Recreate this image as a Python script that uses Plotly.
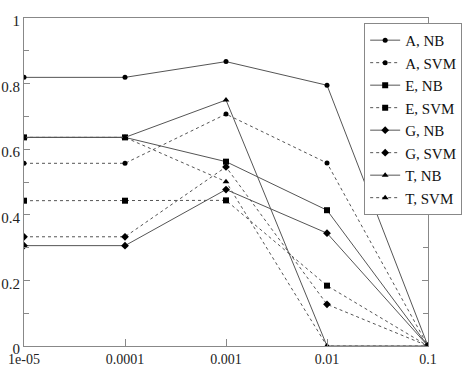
import plotly.graph_objects as go

x_vals = [1e-05, 1e-04, 1e-03, 1e-02, 1e-01]
series_names = ["A, NB", "A, SVM", "E, NB", "E, SVM", "G, NB", "G, SVM", "T, NB", "T, SVM"]
a_nb = [0.819, 0.819, 0.867, 0.795, 0.0]
a_svm = [0.557, 0.557, 0.707, 0.558, 0.0]
e_nb = [0.636, 0.636, 0.562, 0.414, 0.0]
e_svm = [0.443, 0.443, 0.444, 0.184, 0.0]
g_nb = [0.306, 0.306, 0.477, 0.344, 0.0]
g_svm = [0.333, 0.333, 0.546, 0.127, 0.0]
t_nb = [0.636, 0.636, 0.750, 0.0, 0.0]
t_svm = [0.636, 0.636, 0.501, 0.0, 0.0]
series_values = [a_nb, a_svm, e_nb, e_svm, g_nb, g_svm, t_nb, t_svm]
symbols = ["circle", "circle", "square", "square", "diamond", "diamond", "triangle-up", "triangle-up"]
dashes = ["solid", "3px,3px"] * 4
sizes = [5, 5, 6, 6, 6, 6, 6, 6]

x_tick_vals = [1e-05, 1e-04, 1e-03, 1e-02, 1e-01]
x_tick_text = ["1e-05", "0.0001", "0.001", "0.01", "0.1"]
y_tick_vals = [0, 0.2, 0.4, 0.6, 0.8, 1]
y_tick_text = ["0", "0.2", "0.4", "0.6", "0.8", "1"]

fig = go.Figure()
for name, vals, sym, dash, sz in zip(series_names, series_values, symbols, dashes, sizes):
    fig.add_trace(go.Scatter(
        x=x_vals, y=vals, name=name, mode="lines+markers",
        line=dict(color="#555555", width=1, dash=dash),
        marker=dict(symbol=sym, size=sz, color="black"),
    ))

serif = "Liberation Serif"
fig.update_layout(
    width=474, height=366,
    margin=dict(l=24, r=33, t=18, b=20),
    paper_bgcolor="white", plot_bgcolor="white",
    font=dict(family=serif, size=15, color="#222222"),
    showlegend=True,
    legend=dict(
        x=0.842, y=0.985, xanchor="left", yanchor="top",
        bgcolor="white", bordercolor="#888888", borderwidth=1,
        font=dict(family=serif, size=15, color="#111111"),
        tracegroupgap=0, itemwidth=30,
    ),
    xaxis=dict(
        type="log", range=[-5, -1], automargin=False,
        tickvals=x_tick_vals, ticktext=x_tick_text,
        ticks="inside", ticklen=7, tickcolor="#888888",
        ticklabelstandoff=0,
        showline=True, linecolor="#888888", linewidth=1, mirror=True,
        showgrid=False, zeroline=False,
        tickfont=dict(family=serif, size=14, color="#222222"),
    ),
    yaxis=dict(
        range=[0, 1], automargin=False,
        tickvals=y_tick_vals, ticktext=y_tick_text,
        ticks="inside", ticklen=6, tickcolor="#888888",
        ticklabelshift=3,
        minor=dict(ticks="inside", ticklen=5, dtick=0.1, tick0=0, tickcolor="#888888", showgrid=False),
        showline=True, linecolor="#888888", linewidth=1, mirror="ticks",
        showgrid=False, zeroline=False,
        tickfont=dict(family=serif, size=15, color="#222222"),
    ),
)

fig.write_html("out.html")
